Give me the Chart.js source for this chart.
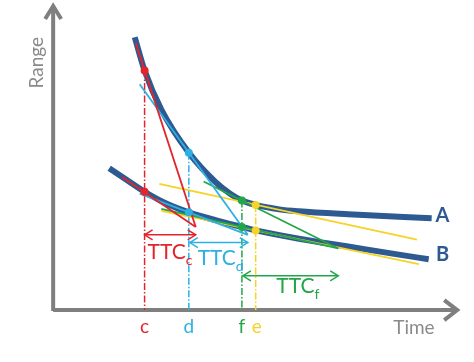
<!DOCTYPE html>
<html>
<head>
<meta charset="utf-8">
<script src="https://cdn.jsdelivr.net/npm/chart.js@4.4.1/dist/chart.umd.min.js"></script>
<style>
  body { margin: 0; background: #fff; }
</style>
</head>
<body>
<canvas id="myChart" width="474" height="362"></canvas>
<script>
// curve A (upper) and curve B (lower): time vs range, arbitrary units
const timeA = [82, 92, 109, 137, 164, 179, 191, 205, 229, 249, 299, 384];
const rangeA = [280, 246, 206, 162, 132, 120, 113, 108.5, 104, 102, 99, 95];
const timeB = [56, 74, 92, 114, 137, 164, 191, 205, 249, 299, 349, 381];
const rangeB = [146, 134, 122, 110, 101, 93, 86, 82.5, 74, 66, 58, 53];

// sample instants c, d, f, e
const markNames = ["c", "d", "f", "e"];
const markTimes = [92, 137, 191, 205];
const markOnA = [246, 162, 113, 108.5];
const markOnB = [122, 101, 86, 82.5];
const markColors = ["#E3242B", "#2DB0E4", "#22A64A", "#F5D327"];

// tangent lines through the marks (start / end)
const tanA_t0 = [83, 87, 152, 107];
const tanA_r0 = [274, 232, 132.5, 130];
const tanA_t1 = [144, 197, 289, 369];
const tanA_r1 = [86, 78, 64, 73];
const tanB_t0 = [69, 87, 109, 109];
const tanB_r0 = [137, 120, 104.5, 102.5];
const tanB_t1 = [144, 197, 289, 371];
const tanB_r1 = [86, 78, 64, 48];

// TTC arrows
const ttcNames = ["c", "d", "f"];
const ttcFrom = [92, 138, 192];
const ttcTo = [144, 197, 289];
const ttcLevel = [78, 70, 36];
const ttcLabelT = [95, 146, 226];
const ttcLabelR = [60, 54, 25];

const axisTimeMax = 409;
const axisRangeMax = 311;
const blue = "#2E5A92";
const gray = "#7F7F7F";
const FONT = "Lato, 'Open Sans', sans-serif";

const pts = (xs, ys) => xs.map((x, i) => ({ x: x, y: ys[i] }));

const datasets = [];
datasets.push({ data: pts([-1, -1], [0, axisRangeMax]), borderColor: gray, borderWidth: 4, order: 20 });
datasets.push({ data: pts([-1, axisTimeMax], [1, 1]), borderColor: gray, borderWidth: 4, order: 20 });
datasets.push({ data: pts(timeA, rangeA), borderColor: blue, borderWidth: 6, cubicInterpolationMode: "monotone", order: 10 });
datasets.push({ data: pts(timeB, rangeB), borderColor: blue, borderWidth: 6, cubicInterpolationMode: "monotone", order: 10 });

markTimes.forEach((t, i) => {
  const c = markColors[i];
  datasets.push({ data: pts([t, t], [markOnA[i], 1]), borderColor: c, borderWidth: 1.5, borderDash: [7, 2, 1.5, 2], order: 8 });
  datasets.push({ data: pts([tanA_t0[i], tanA_t1[i]], [tanA_r0[i], tanA_r1[i]]), borderColor: c, borderWidth: 1.8, order: 5 });
  datasets.push({ data: pts([tanB_t0[i], tanB_t1[i]], [tanB_r0[i], tanB_r1[i]]), borderColor: c, borderWidth: 1.8, order: 5 });
  datasets.push({ data: pts([t, t], [markOnA[i], markOnB[i]]), showLine: false, pointRadius: 4, pointBackgroundColor: c, pointBorderWidth: 0, order: 0 });
});

ttcFrom.forEach((t, i) => {
  datasets.push({ data: pts([t, ttcTo[i]], [ttcLevel[i], ttcLevel[i]]), borderColor: markColors[i], borderWidth: 1.5, order: 3 });
});

function head(ctx, x, y, dir, w, h, color, lw) {
  ctx.strokeStyle = color;
  ctx.lineWidth = lw;
  ctx.beginPath();
  if (dir === "left" || dir === "right") {
    const s = dir === "left" ? 1 : -1;
    ctx.moveTo(x + s * w, y - h);
    ctx.lineTo(x, y);
    ctx.lineTo(x + s * w, y + h);
  } else {
    ctx.moveTo(x - h, y + w);
    ctx.lineTo(x, y);
    ctx.lineTo(x + h, y + w);
  }
  ctx.stroke();
}

const annotations = {
  id: "annotations",
  afterDatasetsDraw(chart) {
    const ctx = chart.ctx;
    const sx = chart.scales.x, sy = chart.scales.y;
    const X = v => sx.getPixelForValue(v);
    const Y = v => sy.getPixelForValue(v);
    ctx.save();
    // axis arrowheads
    head(ctx, X(-1), Y(axisRangeMax + 1), "up", 13, 8, gray, 4);
    head(ctx, X(axisTimeMax + 1), Y(1), "right", 13, 10, gray, 4);

    // TTC arrowheads and labels
    ttcFrom.forEach((t, i) => {
      const c = markColors[i];
      head(ctx, X(t), Y(ttcLevel[i]), "left", 8, 5, c, 1.5);
      head(ctx, X(ttcTo[i]), Y(ttcLevel[i]), "right", 8, 5, c, 1.5);
      ctx.fillStyle = c;
      ctx.textBaseline = "middle";
      ctx.textAlign = "left";
      ctx.font = "21px " + FONT;
      const x0 = X(ttcLabelT[i]), y0 = Y(ttcLabelR[i]);
      ctx.fillText("TTC", x0, y0);
      const w = ctx.measureText("TTC").width;
      ctx.font = "14px " + FONT;
      ctx.fillText(ttcNames[i], x0 + w, y0 + 8);
    });

    // tick letters
    ctx.textAlign = "center";
    ctx.textBaseline = "middle";
    ctx.font = "19px " + FONT;
    markTimes.forEach((t, i) => {
      ctx.fillStyle = markColors[i];
      ctx.fillText(markNames[i], X(t + (i === 3 ? 1 : 0)), Y(-16));
    });

    // curve names
    ctx.fillStyle = blue;
    ctx.font = "bold 20px " + FONT;
    ctx.fillText("A", X(395), Y(98));
    ctx.fillText("B", X(395), Y(58));

    // axis titles
    ctx.fillStyle = "#8A8A8A";
    ctx.font = "19px " + FONT;
    ctx.fillText("Time", X(366), Y(-17));
    ctx.translate(X(-18), Y(254));
    ctx.rotate(-Math.PI / 2);
    ctx.fillText("Range", 0, 0);
    ctx.restore();
  }
};

const config = {
  type: "scatter",
  data: { datasets: datasets },
  options: {
    responsive: false,
    animation: false,
    layout: { padding: 0 },
    elements: { point: { radius: 0 }, line: { tension: 0 } },
    datasets: { scatter: { showLine: true } },
    plugins: { legend: { display: false }, tooltip: { enabled: false } },
    scales: {
      x: { type: "linear", display: false, min: -51, max: 423 },
      y: { type: "linear", display: false, min: -48, max: 314 }
    }
  },
  plugins: [annotations]
};

const myChart = new Chart(document.getElementById("myChart"), config);
</script>
</body>
</html>
